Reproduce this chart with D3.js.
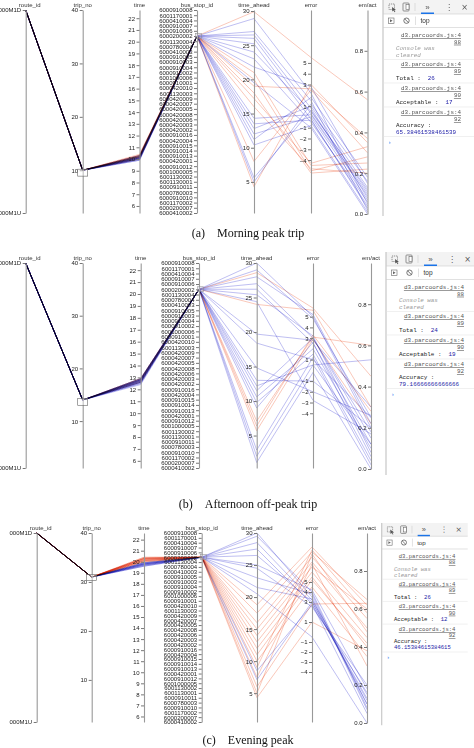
<!DOCTYPE html>
<html>
<head>
<meta charset="utf-8">
<script src="https://d3js.org/d3.v7.min.js"></script>
<style>
	body { margin: 0; background: #fff; }
	svg { display: block; }
	.axis text { font-family: "Liberation Sans", Arial, sans-serif; font-size: 6px; fill: #222; }
	.axis .domain { stroke: #999; stroke-width: 1.1px; }
	.axis .tick line { stroke: #777; }
	.title { font-family: "Liberation Sans", Arial, sans-serif; font-size: 6px; fill: #333; text-anchor: middle; }
	.fg path { fill: none; stroke-width: 0.8px; mix-blend-mode: multiply; }
	.caption { font-family: "Liberation Serif", "Times New Roman", serif; font-size: 12px; fill: #111; text-anchor: middle; }
	.mono { font-family: "Liberation Mono", "DejaVu Sans Mono", monospace; font-size: 5.9px; white-space: pre; }
</style>
</head>
<body>
<script>
"use strict";

var dimensions = ["route_id", "trip_no", "time", "bus_stop_id", "time_ahead", "error", "em/act"];
var routeIds = ["000M1D", "000M1U"];
var busStops = ["6000910008", "6001170001", "6000410004", "6000910007", "6000910006", "6000200002",
	"6001130004", "6000780004", "6000410003", "6000910005", "6000910003", "6000910004", "6000910002",
	"6001000006", "6000910001", "6000420010", "6001130003", "6000420009", "6000420007", "6000420005",
	"6000420008", "6000420006", "6000420003", "6000420002", "6000910016", "6000420004", "6000910015",
	"6000910014", "6000910013", "6000420001", "6000910012", "6001000005", "6001130002", "6001130001",
	"6000910011", "6000780003", "6000910010", "6001170002", "6000200007", "6000410002"];

var tripTicks = [10, 20, 30, 40];
var timeTicks = d3.range(6, 23);
var aheadTicks = [5, 10, 15, 20, 25, 30];
var errorTicks = [5, 4, 3, 1, -1, -2, -3, -4];
var emActTicks = [0, 0.2, 0.4, 0.6, 0.8];

var captions = ["Morning peak trip", "Afternoon off-peak trip", "Evening peak"];
var captionTags = ["(a)", "(b)", "(c)"];
var totals = [26, 24, 26];
var acceptable = [17, 19, 12];
var accuracy = ["65.38461538461539", "79.16666666666666", "46.15384615384615"];
var logLines = ["88", "89", "90", "92"];

// (a) morning peak
var morningTrip = 10;
var morningTime = [10.1, 10.0, 10.2, 10.1, 10.3, 9.9, 10.0, 10.2, 10.1, 10.0, 10.3, 10.1, 9.9, 10.2, 10.0, 10.1, 10.2,
	10.3, 10.2, 10.4, 10.1, 10.3, 10.2, 10.0, 10.3, 10.2];
var morningAhead = [28.9, 27.0, 26.5, 26.0, 25.2, 24.0, 23.0, 21.8, 19.5, 14.3, 13.5, 12.8, 12.0, 11.2, 10.4, 5.6, 5.0,
	29.9, 21.0, 20.0, 19.0, 18.0, 17.2, 16.0, 8.0, 4.3];
var morningError = [2.2, 1.5, 0.8, 0.3, -0.2, 0.5, -0.5, 2.8, -1.0, 0.2, -0.3, 1.0, 0.0, 1.8, -0.8, 0.6, 1.2,
	5.5, -4.5, -5.0, 2.6, -5.2, -4.3, -4.8, 2.5, 3.0];
var morningEmAct = [0.05, 0.02, 0.08, 0.10, 0.03, 0.12, 0.06, 0.15, 0.00, 0.09, 0.04, 0.13, 0.07, 0.18, 0.01, 0.11, 0.16,
	0.56, 0.25, 0.28, 0.37, 0.22, 0.33, 0.20, 0.30, 0.35];
var morningOk = [1, 1, 1, 1, 1, 1, 1, 1, 1, 1, 1, 1, 1, 1, 1, 1, 1, 0, 0, 0, 0, 0, 0, 0, 0, 0];

// (b) afternoon off-peak
var afternoonTrip = 14;
var afternoonTime = [12.8, 12.7, 12.9, 12.6, 12.8, 12.5, 12.7, 12.9, 12.6, 12.8, 12.7, 12.5, 12.9, 12.6, 12.8, 12.7,
	12.4, 12.6, 12.8, 12.9, 12.7, 12.8, 12.6, 12.9];
var afternoonAhead = [30.0, 29.0, 28.0, 27.0, 26.2, 25.4, 19.7, 18.4, 14.8, 13.0, 12.2, 11.5, 10.6, 9.8, 9.0, 2.9, 2.0,
	1.1, 24.4, 28.6, 24.0, 7.1, 6.4, 5.7];
var afternoonError = [5.0, 4.8, 5.2, 3.0, 2.5, 3.2, 2.8, 1.0, -2.0, -1.0, 0.5, 3.0, 2.0, 1.5, 2.6, 1.2, 0.5, -0.2,
	-2.8, 5.8, 5.6, 3.1, 3.3, 2.9];
var afternoonEmAct = [0.20, 0.25, 0.22, 0.18, 0.12, 0.08, 0.30, 0.25, 0.26, 0.20, 0.53, 0.15, 0.10, 0.04, 0.06, 0.02,
	0.12, 0.00, 0.17, 0.45, 0.30, 0.60, 0.28, 0.22];
var afternoonOk = [1, 1, 1, 1, 1, 1, 1, 1, 1, 1, 1, 1, 1, 1, 1, 1, 1, 1, 1, 0, 0, 0, 0, 0];

// (c) evening peak
var eveningTrip = 31;
var eveningTime = [19.8, 19.7, 19.9, 19.6, 19.8, 19.7, 19.9, 19.8, 19.6, 19.7, 19.9, 19.8,
	20.3, 20.2, 20.4, 20.1, 20.3, 20.2, 20.0, 20.3, 20.1, 20.4, 20.2, 20.0, 20.3, 20.1];
var eveningAhead = [30.0, 29.5, 28.5, 27.5, 26.5, 25.0, 24.5, 23.0, 21.5, 20.5, 8.5, 7.1,
	18.8, 17.5, 16.0, 15.0, 14.0, 13.0, 12.0, 11.0, 10.0, 9.0, 7.5, 6.0, 5.0, 4.3];
var eveningError = [3.5, 4.0, 3.2, 2.8, 3.0, 4.2, 2.5, 3.8, 3.3, -0.5, 2.7, 3.0,
	8.5, 8.0, 7.5, 7.0, 6.5, 6.0, 5.5, 5.2, 4.5, 8.2, 6.8, 2.8, 7.8, 1.0];
var eveningEmAct = [0.10, 0.08, 0.15, 0.05, 0.12, 0.18, 0.20, 0.07, 0.10, 0.00, 0.16, 0.13,
	0.62, 0.65, 0.55, 0.50, 0.60, 0.45, 0.40, 0.42, 0.35, 0.58, 0.30, 0.63, 0.48, 0.38];
var eveningOk = [1, 1, 1, 1, 1, 1, 1, 1, 1, 1, 1, 1, 0, 0, 0, 0, 0, 0, 0, 0, 0, 0, 0, 0, 0, 0];

var selectedRoute = "000M1D";
var selectedStop = "6000200002";

function makeRecords(trip, times, ahead, err, emact, ok) {
	return times.map(function(t, i) {
		return [selectedRoute, trip, t, selectedStop, ahead[i], err[i], emact[i], ok[i]];
	});
}

var panels = [
	{
		records: makeRecords(morningTrip, morningTime, morningAhead, morningError, morningEmAct, morningOk),
		trip: morningTrip, tripBrush: [8.9, 10.2],
		x: [25.7, 82.7, 139.5, 197, 254, 311, 367.5], top: 10, bottom: 213,
		domains: [null, [2, 40], [5.4, 22.7], null, [0.45, 30.15], [-8.9, 9.9], [0, 1.0]],
		captionY: 237, console: "translate(0,0)", consoleH: 216
	},
	{
		records: makeRecords(afternoonTrip, afternoonTime, afternoonAhead, afternoonError, afternoonEmAct, afternoonOk),
		trip: afternoonTrip, tripBrush: [13.0, 14.3],
		x: [25.7, 82.7, 140.7, 199, 256.7, 313, 371], top: 263, bottom: 468,
		domains: [null, [1.1, 40], [5.4, 22.6], null, [0.3, 30], [-9.1, 10], [0, 1.0]],
		captionY: 508, console: "translate(3,252)", consoleH: 223
	},
	{
		records: makeRecords(eveningTrip, eveningTime, eveningAhead, eveningError, eveningEmAct, eveningOk),
		trip: eveningTrip, tripBrush: [30.3, 31.5],
		x: [36.7, 91.7, 144, 201.7, 257, 312, 367], top: 533, bottom: 722,
		domains: [null, [1.4, 40], [5.5, 22.6], null, [0.5, 30], [-9, 9.9], [0, 1.0]],
		captionY: 744, console: "translate(19.8,523) scale(0.945)", consoleH: 214
	}
];

var svg = d3.select("body").append("svg")
	.attr("width", 474)
	.attr("height", 748);

panels.forEach(function(p, k) {
	var g = svg.append("g");

	// one scale per dimension
	var scales = dimensions.map(function(dim, i) {
		if(i == 0) return d3.scalePoint().domain(routeIds).range([p.top, p.bottom]);
		if(i == 3) return d3.scalePoint().domain(busStops).range([p.top, p.bottom]);
		if(i == 6) return d3.scaleLinear().domain(p.domains[i]).range([p.bottom + 1, p.top]);
		return d3.scaleLinear().domain(p.domains[i]).range([p.bottom, p.top]);
	});
	var tickSets = [null, tripTicks, timeTicks, null, aheadTicks, errorTicks, emActTicks];

	// foreground lines
	var line = d3.line()
		.x(function(d, i) { return p.x[i]; })
		.y(function(d, i) { return scales[i](d); });
	g.append("g").attr("class", "fg")
		.selectAll("path")
		.data(p.records)
			.enter().append("path")
		.attr("d", function(r) { return line(r.slice(0, 7)); })
		.attr("stroke", function(r) { return r[7] ? "rgb(95,95,220)" : "rgb(240,118,82)"; })
		.attr("stroke-opacity", 0.5);

	// axes
	dimensions.forEach(function(dim, i) {
		var axis = d3.axisLeft(scales[i]).tickSize(3).tickSizeOuter(0).tickPadding(1.5);
		if(tickSets[i]) axis.tickValues(tickSets[i]);
		if(i == 6) axis.tickFormat(d3.format(".1f"));
		var a = g.append("g")
			.attr("class", "axis")
			.attr("transform", "translate(" + p.x[i] + ",0)")
			.call(axis);
		a.selectAll("text").attr("font-family", null).attr("font-size", null);
		g.append("text")
			.attr("class", "title")
			.attr("x", p.x[i] + (i == 0 ? 4 : 0))
			.attr("y", p.top - 3.5)
			.text(dim);
	});

	// brushes on trip_no and bus_stop_id
	g.append("rect")
		.attr("x", p.x[1] - 5).attr("width", 10)
		.attr("y", scales[1](p.tripBrush[1]))
		.attr("height", scales[1](p.tripBrush[0]) - scales[1](p.tripBrush[1]))
		.attr("fill", "rgba(255,255,255,0.4)").attr("stroke", "#666").attr("stroke-width", 0.6);
	g.append("rect")
		.attr("x", p.x[3] - 1.5).attr("width", 6)
		.attr("y", scales[3](selectedStop) - 2.5).attr("height", 5)
		.attr("fill", "rgba(200,200,220,0.35)").attr("stroke", "#888").attr("stroke-width", 0.5);

	// caption
	var cap = svg.append("text").attr("class", "caption")
		.attr("x", 248).attr("y", p.captionY);
	cap.append("tspan").text(captionTags[k]);
	cap.append("tspan").attr("dx", 12).text(captions[k]);

	drawConsole(svg.append("g").attr("transform", p.console), p.consoleH, totals[k], acceptable[k], accuracy[k]);
});

// devtools console pane, drawn in the coordinates of the first panel
function drawConsole(c, h, total, ok, acc) {
	c.append("rect").attr("x", 383).attr("y", 0).attr("width", 91).attr("height", h).attr("fill", "#fff");
	c.append("rect").attr("x", 383).attr("y", 0).attr("width", 91).attr("height", 14).attr("fill", "#f3f3f3");
	c.append("line").attr("x1", 383).attr("x2", 383).attr("y1", 0).attr("y2", h).attr("stroke", "#bbb");
	[14, 27.5].forEach(function(y) {
		c.append("line").attr("x1", 383).attr("x2", 474).attr("y1", y).attr("y2", y).attr("stroke", "#ccc").attr("stroke-width", 0.6);
	});

	// toolbar icons
	c.append("rect").attr("x", 389).attr("y", 4).attr("width", 5.5).attr("height", 5.5)
		.attr("fill", "none").attr("stroke", "#666").attr("stroke-width", 0.7).attr("stroke-dasharray", "1.2,0.8");
	c.append("path").attr("d", "M392,7 L396,10 L394.2,10.2 L395.4,11.8 L394.6,12.2 L393.5,10.6 L392.3,11.6 Z").attr("fill", "#555");
	c.append("rect").attr("x", 403).attr("y", 3).attr("width", 6).attr("height", 8).attr("rx", 0.8)
		.attr("fill", "none").attr("stroke", "#666").attr("stroke-width", 0.7);
	c.append("rect").attr("x", 406).attr("y", 4.5).attr("width", 3).attr("height", 5).attr("fill", "#fff").attr("stroke", "#666").attr("stroke-width", 0.6);
	c.append("line").attr("x1", 415).attr("x2", 415).attr("y1", 3).attr("y2", 11).attr("stroke", "#ccc").attr("stroke-width", 0.6);
	c.append("text").attr("x", 427.5).attr("y", 9.6).attr("text-anchor", "middle")
		.attr("font-family", "Liberation Sans, sans-serif").attr("font-size", 8).attr("fill", "#555").text("»");
	c.append("rect").attr("x", 421).attr("y", 12.5).attr("width", 13).attr("height", 1.5).attr("fill", "#1a73e8");
	c.append("text").attr("x", 449).attr("y", 10).attr("text-anchor", "middle")
		.attr("font-family", "DejaVu Sans, sans-serif").attr("font-size", 8).attr("fill", "#555").text("⋮");
	c.append("text").attr("x", 464.5).attr("y", 10).attr("text-anchor", "middle")
		.attr("font-family", "DejaVu Sans, sans-serif").attr("font-size", 8).attr("fill", "#555").text("×");

	c.append("rect").attr("x", 388.5).attr("y", 18).attr("width", 5.5).attr("height", 5.5)
		.attr("fill", "none").attr("stroke", "#666").attr("stroke-width", 0.6);
	c.append("path").attr("d", "M390,19.2 L392.6,20.75 L390,22.3 Z").attr("fill", "#666");
	c.append("circle").attr("cx", 406.5).attr("cy", 20.7).attr("r", 2.7)
		.attr("fill", "none").attr("stroke", "#555").attr("stroke-width", 0.8);
	c.append("line").attr("x1", 404.6).attr("y1", 18.8).attr("x2", 408.4).attr("y2", 22.6).attr("stroke", "#555").attr("stroke-width", 0.8);
	c.append("line").attr("x1", 415.5).attr("x2", 415.5).attr("y1", 16.5).attr("y2", 25).attr("stroke", "#ccc").attr("stroke-width", 0.6);
	c.append("text").attr("x", 420.5).attr("y", 23).attr("font-family", "Liberation Sans, sans-serif")
		.attr("font-size", 6.5).attr("fill", "#333").text("top");

	// console messages
	function link(y, n) {
		c.append("text").attr("class", "mono").attr("x", 461).attr("y", y).attr("text-anchor", "end")
			.attr("fill", "#555").attr("text-decoration", "underline").text("d3.parcoords.js:4");
		c.append("text").attr("class", "mono").attr("x", 461).attr("y", y + 6.7).attr("text-anchor", "end")
			.attr("fill", "#555").attr("text-decoration", "underline").text(n);
	}
	function sep(y) {
		c.append("line").attr("x1", 383.5).attr("x2", 474).attr("y1", y).attr("y2", y).attr("stroke", "#e6e6e6").attr("stroke-width", 0.6);
	}
	function plain(y, label, value) {
		var t = c.append("text").attr("class", "mono").attr("x", 396).attr("y", y).attr("fill", "#222");
		t.append("tspan").text(label);
		if(value != null) t.append("tspan").attr("fill", "#1a1aa6").text(value);
	}

	link(37, logLines[0]);
	c.append("text").attr("class", "mono").attr("x", 396).attr("y", 50.3).attr("fill", "#999").attr("font-style", "italic").text("Console was");
	c.append("text").attr("class", "mono").attr("x", 396).attr("y", 57).attr("fill", "#999").attr("font-style", "italic").text("cleared");
	sep(59.5);
	link(66.3, logLines[1]);
	plain(80.3, "Total :  ", String(total));
	sep(83);
	link(90.3, logLines[2]);
	plain(103.7, "Acceptable :  ", String(ok));
	sep(107);
	link(114.3, logLines[3]);
	plain(127, "Accuracy :", null);
	c.append("text").attr("class", "mono").attr("x", 396).attr("y", 133.7).attr("fill", "#1a1aa6").text(acc);
	sep(136.5);
	c.append("text").attr("class", "mono").attr("x", 388).attr("y", 143.7).attr("fill", "#367cf1").attr("font-size", 7).text("›");
}
</script>
</body>
</html>
